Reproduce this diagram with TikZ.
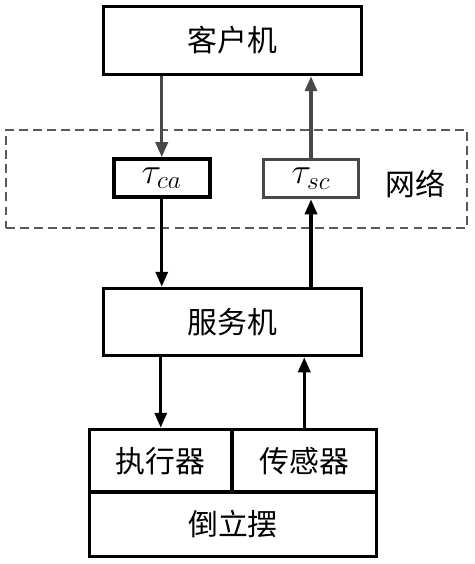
\documentclass[tikz,border=0pt]{standalone}
\usepackage{fontspec}
\usepackage{tikz}
\usetikzlibrary{arrows.meta}
\newfontfamily\cjk{Noto Sans CJK SC}
\definecolor{LinkGray}{RGB}{72,72,72}
\tikzset{
  blk/.style={draw=black,line width=2pt,inner sep=0pt,font=\cjk\fontsize{17}{20}\selectfont},
  delay/.style={draw=black,line width=2pt,inner sep=0pt,minimum width=1.92cm,minimum height=0.76cm,
    font=\fontsize{22}{24}\selectfont},
  netbox/.style={draw=black!65,dashed,dash pattern=on 5pt off 3pt,line width=0.9pt,
    minimum width=9.22cm,minimum height=1.96cm},
  grayarr/.style={draw=LinkGray,line width=1.9pt,-{Triangle[length=0.3cm,width=0.24cm]},color=LinkGray},
  blackarr/.style={draw=black,line width=1.9pt,-{Triangle[length=0.3cm,width=0.24cm]}},
}
\begin{document}
\begin{tikzpicture}[x=0.02cm,y=-0.02cm]
  \useasboundingbox (0,0) rectangle (474,564);

  \node[netbox] (net) at (236.5,179) {};
  \node[font=\cjk\fontsize{17}{20}\selectfont] (netlbl) at (415,184) {网络};

  \node[blk,minimum width=5.16cm,minimum height=1.36cm] (client) at (232.5,40.5) {客户机};
  \node[delay] (tca) at (161.75,178) {$\tau_{ca}$};
  \node[delay,draw=LinkGray,minimum width=1.9cm] (tsc) at (311,178.5) {$\tau_{sc}$};
  \node[blk,minimum width=5.16cm,minimum height=1.34cm] (server) at (232.5,322) {服务机};
  \node[blk,minimum width=2.85cm,minimum height=1.25cm] (act) at (160.75,460.75) {执行器};
  \node[blk,minimum width=2.89cm,minimum height=1.25cm] (sen) at (304.25,460.75) {传感器};
  \node[blk,minimum width=5.74cm,minimum height=1.29cm] (pend) at (233,524.25) {倒立摆};

  \draw[grayarr] (tca.north |- client.south) -- (tca.north);
  \draw[grayarr] (tsc.north) -- (tsc.north |- client.south);
  \draw[blackarr] (tca.south) -- (tca.south |- server.north);
  \draw[blackarr] (tsc.south |- server.north) -- (tsc.south);
  \draw[blackarr] (act.north |- server.south) -- (act.north);
  \draw[blackarr] (sen.north) -- (sen.north |- server.south);
\end{tikzpicture}
\end{document}
